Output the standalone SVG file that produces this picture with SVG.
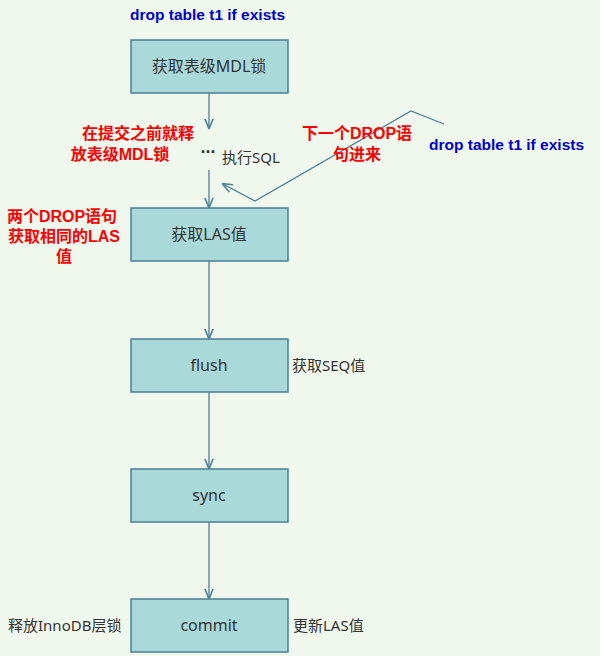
<svg xmlns="http://www.w3.org/2000/svg" width="600" height="656" viewBox="0 0 600 656">
<style>
.b{fill:#a9d9d9;stroke:#4a7f95;stroke-width:1.5}
.t{font-family:"Noto Sans","Noto Sans CJK SC",sans-serif;font-size:16px;fill:#333;text-anchor:middle}
.n{font-family:"Noto Sans","Noto Sans CJK SC",sans-serif;font-size:15px;fill:#333}
.r{font-family:"Liberation Sans","Noto Sans CJK SC",sans-serif;font-size:16px;font-weight:bold;fill:#ff0000;text-anchor:middle}
.bl{font-family:"Liberation Sans",sans-serif;font-size:15.5px;font-weight:bold;fill:#0000cc}
.c{stroke:#4a7f95;stroke-width:1.3;fill:none}
</style>
<defs><marker id="a" viewBox="0 0 10 10" refX="9" refY="5" markerWidth="8" markerHeight="8" orient="auto"><path d="M0,1 L10,5 L0,9" fill="none" stroke="#4a7f95" stroke-width="1.5"/></marker></defs>
<rect width="600" height="656" fill="#f0f8ee"/>
<g id="connectors">
<line class="c" x1="209" y1="93" x2="209" y2="128" marker-end="url(#a)"/>
<line class="c" x1="209" y1="170" x2="209" y2="207" marker-end="url(#a)"/>
<line class="c" x1="209" y1="261" x2="209" y2="338" marker-end="url(#a)"/>
<line class="c" x1="209" y1="392" x2="209" y2="468" marker-end="url(#a)"/>
<line class="c" x1="209" y1="522" x2="209" y2="598" marker-end="url(#a)"/>
<polyline class="c" points="444,124 411,111 255,201 223,184" marker-end="url(#a)"/>
</g>
<text class="bl" x="130" y="20">drop table t1 if exists</text>
<g id="n1"><rect class="b" x="131" y="40" width="157" height="53"/><text class="t" x="209" y="72">获取表级MDL锁</text></g>
<text x="208" y="153" style="font-family:'Liberation Sans';font-size:18px;font-weight:bold;fill:#333;text-anchor:middle">...</text>
<text class="n" x="222" y="163">执行SQL</text>
<text class="r" x="138" y="139">在提交之前就释</text>
<text class="r" x="120" y="160">放表级MDL锁</text>
<text class="r" x="357" y="139">下一个DROP语</text>
<text class="r" x="357" y="160">句进来</text>
<text class="bl" x="429" y="150">drop table t1 if exists</text>
<text class="r" x="62" y="222">两个DROP语句</text>
<text class="r" x="64" y="242">获取相同的LAS</text>
<text class="r" x="64" y="262">值</text>
<g id="n2"><rect class="b" x="131" y="208" width="157" height="53"/><text class="t" x="209" y="240">获取LAS值</text></g>
<g id="n3"><rect class="b" x="131" y="339" width="157" height="53"/><text class="t" x="209" y="371">flush</text></g>
<text class="n" x="292" y="371">获取SEQ值</text>
<g id="n4"><rect class="b" x="131" y="469" width="157" height="53"/><text class="t" x="209" y="501">sync</text></g>
<g id="n5"><rect class="b" x="131" y="599" width="157" height="53"/><text class="t" x="209" y="631">commit</text></g>
<text class="n" x="8" y="631">释放InnoDB层锁</text>
<text class="n" x="293" y="631">更新LAS值</text>
</svg>
